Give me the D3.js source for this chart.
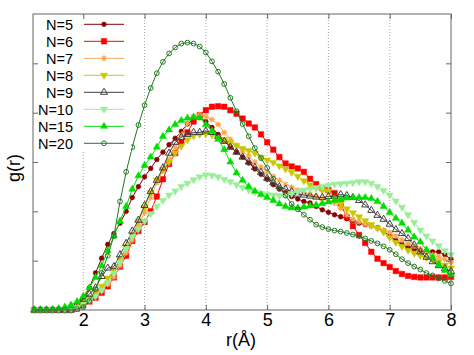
<!DOCTYPE html>
<html><head><meta charset="utf-8">
<script src="https://cdn.jsdelivr.net/npm/d3@7"></script>
<style>body{margin:0;background:#fff}svg{display:block;font-family:"Liberation Sans",Arial,sans-serif}</style>
</head><body><svg id="c" width="474" height="355"></svg>
<script>
const rValues = [1.2,1.3,1.4,1.5,1.6,1.7,1.8,1.9,2.0,2.1,2.2,2.3,2.4,2.5,2.6,2.7,2.8,2.9,3.0,3.1,3.2,3.3,3.4,3.5,3.6,3.7,3.8,3.9,4.0,4.1,4.2,4.3,4.4,4.5,4.6,4.7,4.8,4.9,5.0,5.1,5.2,5.3,5.4,5.5,5.6,5.7,5.8,5.9,6.0,6.1,6.2,6.3,6.4,6.5,6.6,6.7,6.8,6.9,7.0,7.1,7.2,7.3,7.4,7.5,7.6,7.7,7.8,7.9,8.0];
const xTicks = [2,3,4,5,6,7,8];
const yTicks = [1,2,3,4,5];
const seriesNames = ["N=5","N=6","N=7","N=8","N=9","N=10","N=15","N=20"];

const gN5 = [0,0,0,0,0,0.01,0.04,0.1,
 0.22,0.45,0.75,1.05,1.33,1.55,1.76,2.0,2.28,2.5,
 2.7,2.87,3.05,3.2,3.35,3.48,3.62,3.77,3.87,3.9,
 3.82,3.7,3.56,3.43,3.31,3.2,3.1,2.98,2.86,2.75,
 2.65,2.54,2.45,2.38,2.3,2.25,2.2,2.17,2.1,2.03,
 1.98,1.93,1.89,1.85,1.81,1.76,1.73,1.71,1.67,1.6,
 1.5,1.41,1.33,1.27,1.23,1.21,1.18,1.18,1.18,1.12,1.03];
const gN6 = [0,0,0,0,0,0,0,0.03,
 0.1,0.17,0.25,0.35,0.48,0.66,0.88,1.1,1.4,1.6,
 1.78,2.0,2.3,2.65,2.96,3.18,3.4,3.6,3.82,3.95,
 4.05,4.12,4.13,4.12,4.05,3.98,3.88,3.78,3.7,3.56,
 3.4,3.25,3.1,2.97,2.91,2.87,2.8,2.66,2.55,2.47,
 2.43,2.37,2.15,1.88,1.7,1.52,1.36,1.18,1.04,0.95,
 0.87,0.79,0.73,0.69,0.67,0.66,0.66,0.66,0.66,0.66,0.67];
const gN7 = [0,0,0,0,0,0,0,0.05,
 0.12,0.2,0.29,0.4,0.52,0.67,0.9,1.16,1.42,1.7,
 1.98,2.28,2.58,2.82,3.05,3.3,3.55,3.78,3.93,3.96,
 3.92,3.86,3.76,3.6,3.46,3.34,3.22,3.12,3.0,2.9,
 2.8,2.71,2.63,2.55,2.49,2.43,2.38,2.34,2.3,2.26,
 2.22,2.17,2.06,1.93,1.84,1.79,1.74,1.69,1.66,1.62,
 1.57,1.5,1.42,1.35,1.29,1.24,1.18,1.12,1.08,1.03,0.97];
const gN8 = [0,0,0,0,0,0,0,0.08,
 0.17,0.26,0.35,0.48,0.65,0.82,1.03,1.28,1.52,1.8,
 2.08,2.38,2.64,2.85,3.0,3.18,3.32,3.45,3.53,3.56,
 3.57,3.55,3.5,3.46,3.4,3.33,3.27,3.23,3.18,3.1,
 3.04,2.99,2.92,2.86,2.79,2.71,2.62,2.54,2.47,2.43,
 2.41,2.28,2.15,2.05,1.97,1.89,1.81,1.73,1.66,1.58,
 1.47,1.37,1.29,1.21,1.15,1.1,1.06,1.03,0.98,0.91,0.85];
const gN9 = [0,0,0,0,0,0,0,0.12,
 0.22,0.32,0.45,0.68,0.85,0.88,1.12,1.35,1.6,1.82,
 2.12,2.4,2.63,2.88,3.18,3.4,3.5,3.56,3.6,3.6,
 3.63,3.6,3.52,3.42,3.3,3.2,3.1,3.0,2.89,2.79,
 2.67,2.58,2.5,2.45,2.4,2.35,2.33,2.31,2.29,2.28,
 2.3,2.31,2.34,2.32,2.28,2.22,2.13,2.02,1.92,1.84,
 1.74,1.63,1.55,1.45,1.32,1.18,1.07,0.98,0.9,0.84,0.78];
const gN10 = [0,0,0,0,0,0,0,0.05,
 0.11,0.18,0.28,0.4,0.55,0.74,0.96,1.24,1.48,1.64,
 1.8,1.95,2.1,2.22,2.33,2.41,2.5,2.57,2.64,2.7,
 2.74,2.73,2.7,2.65,2.6,2.54,2.48,2.43,2.39,2.36,
 2.34,2.33,2.32,2.33,2.36,2.4,2.43,2.45,2.48,2.5,
 2.53,2.55,2.56,2.57,2.58,2.6,2.6,2.57,2.5,2.42,
 2.33,2.21,2.08,1.93,1.77,1.62,1.5,1.4,1.3,1.2,1.12];
const gN15 = [0,0,0,0.01,0.03,0.06,0.1,0.17,
 0.28,0.45,0.66,0.9,1.2,1.5,1.8,2.1,2.45,2.72,
 2.93,3.1,3.3,3.52,3.65,3.76,3.84,3.89,3.91,3.9,
 3.76,3.63,3.46,3.25,3.0,2.78,2.63,2.5,2.41,2.34,
 2.28,2.22,2.15,2.1,2.07,2.07,2.09,2.11,2.13,2.16,
 2.19,2.22,2.25,2.27,2.28,2.28,2.28,2.26,2.2,2.1,
 1.98,1.86,1.76,1.62,1.48,1.38,1.22,1.06,0.92,0.8,0.72];
const gN20 = [0,0,0,0,0,0,0,0.02,
 0.06,0.18,0.42,0.75,1.1,1.5,2.2,2.8,3.3,3.75,
 4.15,4.5,4.8,5.03,5.2,5.32,5.4,5.42,5.4,5.34,
 5.22,5.04,4.83,4.58,4.3,4.03,3.77,3.52,3.28,3.08,
 2.88,2.66,2.48,2.32,2.15,2.04,1.93,1.83,1.73,1.68,
 1.64,1.61,1.59,1.56,1.53,1.5,1.45,1.4,1.35,1.29,
 1.22,1.13,1.03,0.95,0.88,0.82,0.75,0.7,0.64,0.59,0.54];

const seriesValues = [gN5,gN6,gN7,gN8,gN9,gN10,gN15,gN20];
const colors = ["#8b0000","#ff0000","#ffa54f","#c8c800","#404040","#99ee99","#00dd00","#237a23"];
const markers = ["circle","square","star","tridown","triopen","tridownopen","tri","circleopen"];

const svg = d3.select("#c");
const L=33,R=451,T=14,B=310;
const x = d3.scaleLinear().domain([1.18,8]).range([L,R]);
const y = d3.scaleLinear().domain([0,6]).range([B,T]);

svg.append("g").selectAll("line").data(xTicks.filter(d=>d<8)).join("line")
  .attr("x1",d=>x(d)).attr("x2",d=>x(d)).attr("y1",T).attr("y2",B)
  .attr("stroke","#aaa").attr("stroke-width",1).attr("stroke-dasharray","1,2");

function markerPath(kind){
  switch(kind){
    case "circle": return d3.symbol(d3.symbolCircle,18)();
    case "circleopen": return d3.symbol(d3.symbolCircle,18)();
    case "square": return d3.symbol(d3.symbolSquare,30)();
    case "tri": case "triopen": return d3.symbol(d3.symbolTriangle,22)();
    case "tridown": case "tridownopen": return d3.symbol(d3.symbolTriangle,22)();
    case "star": return "M-3,0L3,0M0,-3L0,3M-2.1,-2.1L2.1,2.1M-2.1,2.1L2.1,-2.1";
  }
}
function styleMarker(sel,kind,col){
  const open = kind==="triopen"||kind==="circleopen";
  sel.attr("d",markerPath(kind))
    .attr("fill", kind==="star"?"none":col)
    .attr("fill-opacity", open?0:1)
    .attr("stroke",col).attr("stroke-width",kind==="star"?1.1:(open?1:0.5));
}

const line = d3.line().x((d,i)=>x(rValues[i])).y(d=>y(d));
seriesValues.forEach((vals,s)=>{
  const g = svg.append("g");
  g.append("path").attr("d",line(vals)).attr("fill","none").attr("stroke",colors[s]).attr("stroke-width",1);
  const rot = (markers[s]==="tridown"||markers[s]==="tridownopen")?" rotate(180)":"";
  g.selectAll("path.m").data(vals).join("path").attr("class","m")
    .each(function(){styleMarker(d3.select(this),markers[s],colors[s]);})
    .attr("transform",(d,i)=>`translate(${x(rValues[i])},${y(d)})${rot}`);
});

svg.append("rect").attr("x",L).attr("y",T).attr("width",R-L).attr("height",B-T)
  .attr("fill","none").attr("stroke","#666").attr("stroke-width",1);

svg.append("rect").attr("x",L+1).attr("y",T+1).attr("width",97).attr("height",137).attr("fill","#fff");
const lg = svg.append("g");
seriesNames.forEach((n,s)=>{
  const cy = 24.3 + s*17;
  lg.append("text").attr("x",73).attr("y",cy+5.2).attr("text-anchor","end")
    .attr("font-size","14.5px").attr("fill","#000").text(n);
  lg.append("line").attr("x1",84).attr("x2",124).attr("y1",cy).attr("y2",cy).attr("stroke",colors[s]).attr("stroke-width",1);
  const rot = (markers[s]==="tridown"||markers[s]==="tridownopen")?" rotate(180)":"";
  const m = lg.append("path");
  styleMarker(m,markers[s],colors[s]);
  m.attr("transform",`translate(104,${cy})${rot}`);
});

const ax = d3.axisBottom(x).tickValues(xTicks).tickSize(-5).tickPadding(3).tickFormat(d3.format("d"));
const gx = svg.append("g").attr("transform",`translate(0,${B})`).call(ax);
const axT = d3.axisTop(x).tickValues(xTicks).tickSize(-5).tickFormat("");
const gxt = svg.append("g").attr("transform",`translate(0,${T})`).call(axT);
const ayL = d3.axisLeft(y).tickValues(yTicks).tickSize(-5).tickFormat("");
const gyl = svg.append("g").attr("transform",`translate(${L},0)`).call(ayL);
const ayR = d3.axisRight(y).tickValues(yTicks).tickSize(-5).tickFormat("");
const gyr = svg.append("g").attr("transform",`translate(${R},0)`).call(ayR);
[gx,gxt,gyl,gyr].forEach(g=>{
  g.select(".domain").remove();
  g.selectAll(".tick line").attr("stroke","#666");
});
gx.selectAll(".tick text").attr("font-size","18px").attr("fill","#000").attr("font-family","Liberation Sans, Arial, sans-serif");

svg.append("text").attr("x",241).attr("y",346).attr("text-anchor","middle").attr("font-size","18px").text("r(Å)");
svg.append("text").attr("transform","translate(20,168) rotate(-90)").attr("text-anchor","middle").attr("font-size","18px").text("g(r)");
</script></body></html>
